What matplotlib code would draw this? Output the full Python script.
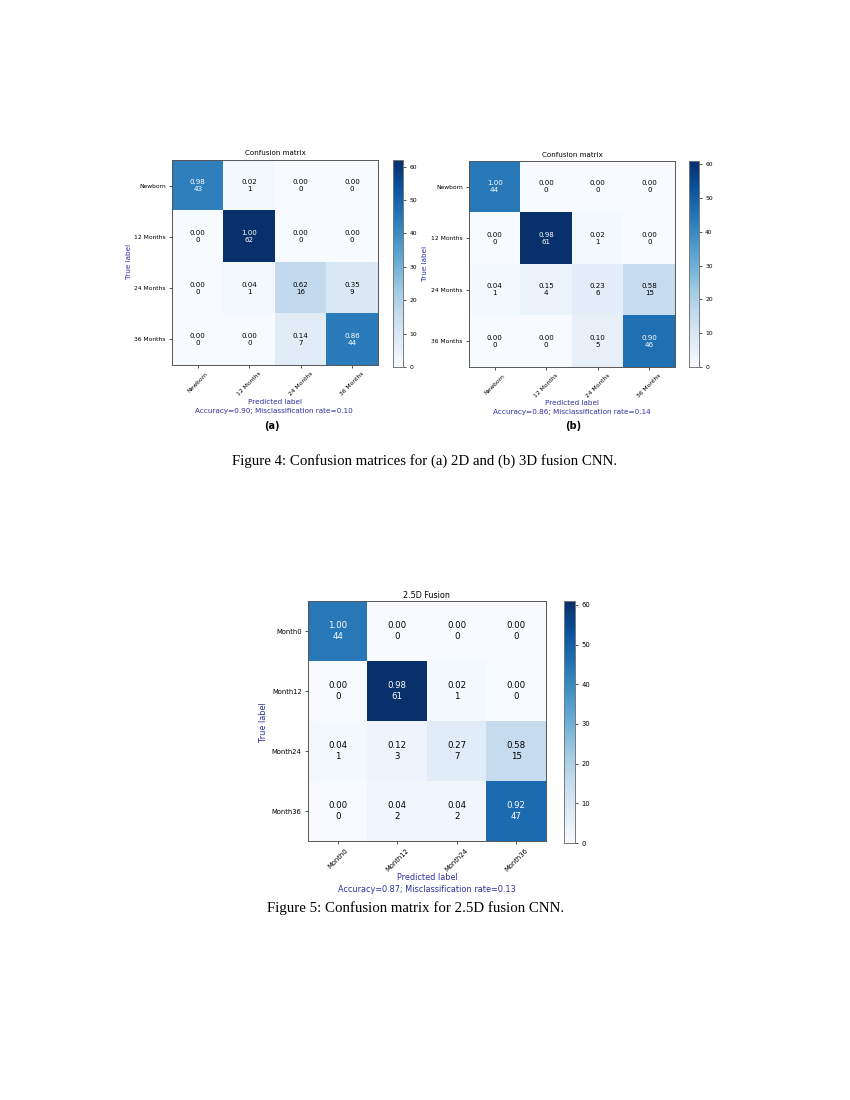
import numpy as np
import matplotlib
matplotlib.use("Agg")
import matplotlib.pyplot as plt

# ---- data ----
labels_ab = ["Newborn", "12 Months", "24 Months", "36 Months"]
labels_c = ["Month0", "Month12", "Month24", "Month36"]

counts_a = [[43, 1, 0, 0],
            [0, 62, 0, 0],
            [0, 1, 16, 9],
            [0, 0, 7, 44]]
counts_b = [[44, 0, 0, 0],
            [0, 61, 1, 0],
            [1, 4, 6, 15],
            [0, 0, 5, 46]]
counts_c = [[44, 0, 0, 0],
            [0, 61, 1, 0],
            [1, 3, 7, 15],
            [0, 2, 2, 47]]

titles = ["Confusion matrix", "Confusion matrix", "2.5D Fusion"]
caption4 = "Figure 4: Confusion matrices for (a) 2D and (b) 3D fusion CNN."
caption5 = "Figure 5: Confusion matrix for 2.5D fusion CNN."

W, H = 850, 1100
fig = plt.figure(figsize=(8.5, 11), dpi=100)
fig.patch.set_facecolor("white")
LBL = "#2f2fa0"


def rect(x0, y0, x1, y1):
    return [x0 / W, 1 - y1 / H, (x1 - x0) / W, (y1 - y0) / H]


def fx(x):
    return x / W


def fy(y):
    return 1 - y / H


def draw(counts, labels, title, hm, cb, fs_cell, fs_tick, fs_title, fs_lab,
         title_xy, true_xy, pred_xy, acc_xy):
    cm = np.array(counts, dtype=float)
    norm = cm / cm.sum(axis=1, keepdims=True)
    ax = fig.add_axes(rect(*hm))
    im = ax.imshow(cm, cmap="Blues", vmin=0, vmax=cm.max(), aspect="auto",
                   interpolation="nearest")
    thresh = cm.max() / 2
    for i in range(cm.shape[0]):
        for j in range(cm.shape[1]):
            ax.text(j, i, "{:0.2f}\n{:d}".format(norm[i, j], int(cm[i, j])),
                    ha="center", va="center", fontsize=fs_cell,
                    color="white" if cm[i, j] > thresh else "black",
                    linespacing=1.15)
    ax.set_xticks(range(len(labels)))
    ax.set_yticks(range(len(labels)))
    ax.set_xticklabels(labels, rotation=45, fontsize=fs_tick)
    ax.set_yticklabels(labels, fontsize=fs_tick)
    ax.tick_params(length=2.5, width=0.6, pad=2, color="#333333")
    for s in ax.spines.values():
        s.set_color("#555555")
        s.set_linewidth(0.7)
    cax = fig.add_axes(rect(*cb))
    c = fig.colorbar(im, cax=cax)
    c.set_ticks(np.arange(0, cm.max() + 1, 10))
    c.ax.tick_params(labelsize=fs_tick, length=2.5, width=0.6, pad=2,
                     color="#333333")
    c.outline.set_edgecolor("#777777")
    c.outline.set_linewidth(0.7)
    acc = np.trace(cm) / cm.sum()
    fig.text(fx(title_xy[0]), fy(title_xy[1]), title, ha="center", va="center",
             fontsize=fs_title)
    fig.text(fx(true_xy[0]), fy(true_xy[1]), "True label", ha="center",
             va="center", rotation=90, fontsize=fs_lab, color=LBL)
    fig.text(fx(pred_xy[0]), fy(pred_xy[1]), "Predicted label", ha="center",
             va="center", fontsize=fs_lab, color=LBL)
    fig.text(fx(acc_xy[0]), fy(acc_xy[1]),
             "Accuracy={:0.2f}; Misclassification rate={:0.2f}".format(acc, 1 - acc),
             ha="center", va="center", fontsize=fs_lab, color=LBL)


draw(counts_a, labels_ab, titles[0], (172, 160, 378, 365), (393, 160, 403, 367),
     5.1, 4.3, 5.1, 5.2, (275, 153), (129, 261), (275, 402), (274, 411))
fig.text(fx(272), fy(426), "(a)", ha="center", va="center", fontsize=7,
         fontweight="bold")

draw(counts_b, labels_ab, titles[1], (469, 161, 675, 367), (689, 161, 699, 367),
     5.1, 4.3, 5.1, 5.2, (572, 155), (425, 263), (572, 403), (572, 412))
fig.text(fx(573), fy(426), "(b)", ha="center", va="center", fontsize=7,
         fontweight="bold")

draw(counts_c, labels_c, titles[2], (308, 601, 546, 841), (564, 601, 575, 843),
     6.2, 4.9, 5.8, 5.85, (426, 596), (264, 722), (427, 878), (427, 889))

fig.text(fx(425), fy(461), caption4, ha="center", va="center", fontsize=10.75,
         family="Liberation Serif")
fig.text(fx(416), fy(908), caption5, ha="center", va="center", fontsize=10.75,
         family="Liberation Serif")

fig.savefig("out.png", dpi=100, facecolor="white")
